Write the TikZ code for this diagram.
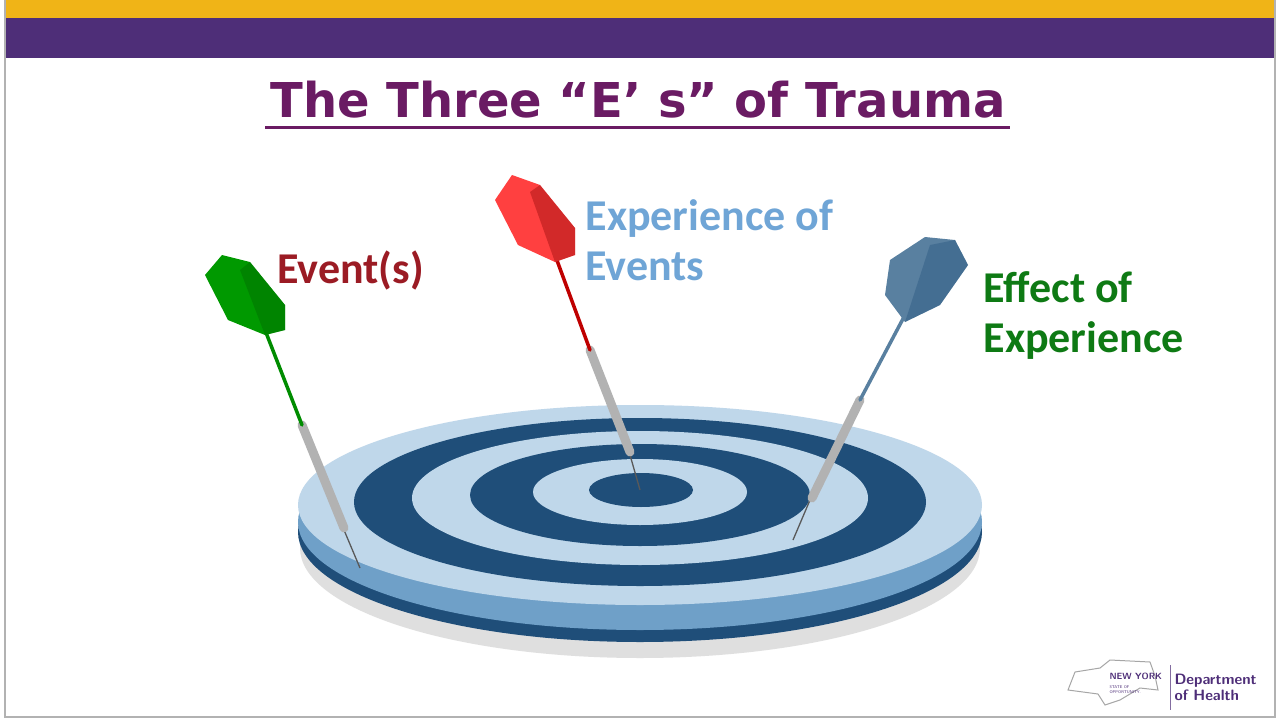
\documentclass[tikz,border=0pt]{standalone}
\usepackage{fontspec}
\setmainfont{Carlito}
\newfontfamily\titlefont{DejaVu Sans}
\begin{document}
\begin{tikzpicture}[x=1pt,y=-1pt,
  lbl/.style={font=\bfseries\fontsize{44}{50}\selectfont,anchor=west,align=left},
  shaftline/.style={line width=3.5pt,line cap=round},
  barrel/.style={line width=9pt,line cap=round,draw=gray!60},
  needle/.style={line width=1.3pt,draw=gray!70!black}]
\definecolor{gold}{HTML}{F0B417}
\definecolor{purp}{HTML}{4E2E78}
\definecolor{ttl}{HTML}{6A1B63}
\definecolor{dk}{HTML}{1F4E79}
\definecolor{lt}{HTML}{BFD7EA}
\definecolor{ltb}{HTML}{6FA0C8}
\definecolor{dg}{HTML}{0E7A14}
\definecolor{dr}{HTML}{9B1B24}
\definecolor{lb}{HTML}{6FA5D6}
\useasboundingbox (0,0) rectangle (1280,720);
\fill[white] (0,0) rectangle (1280,720);
\fill[gold] (5,0) rectangle (1275,18);
\fill[purp] (5,18) rectangle (1275,58);
\draw[gray!60,line width=1.5pt] (5,0) -- (5,717) -- (1275,717) -- (1275,0);
\node[font=\titlefont\bfseries\fontsize{48}{52}\selectfont,text=ttl] (title) at (638,100) {The Three “E’ s” of Trauma};
\draw[ttl,line width=3pt] (265,127) -- (1010,127);
% shadow and rim
\fill[gray!25] (640,548) ellipse [x radius=340,y radius=110];
\fill[dk] (640,532) ellipse [x radius=342,y radius=110];
\fill[ltb] (640,522) ellipse [x radius=342,y radius=108];
% rings
\fill[lt] (640,505) ellipse [x radius=342,y radius=100];
\fill[dk] (640,502) ellipse [x radius=286,y radius=84];
\fill[lt] (640,498) ellipse [x radius=228,y radius=67];
\fill[dk] (640,495) ellipse [x radius=170,y radius=51];
\fill[lt] (640,492) ellipse [x radius=107,y radius=33];
\fill[dk] (641,490) ellipse [x radius=52,y radius=17];
% green dart
\coordinate (gt) at (360,568);
\draw[needle] (gt) -- (344,530);
\draw[barrel] (344,528) -- (302,425);
\draw[shaftline,green!55!black] (302,425) -- (265,330);
\fill[green!60!black] (265,335) -- (228,320) -- (205,275) -- (222,255) -- (250,262) -- (285,305) -- (285,330) -- cycle;
\fill[green!40!black,opacity=.4] (265,335) -- (240,270) -- (250,262) -- (285,305) -- (285,330) -- cycle;
% red dart
\coordinate (rt) at (640,490);
\draw[needle] (rt) -- (630,455);
\draw[barrel] (630,452) -- (590,350);
\draw[shaftline,red!75!black] (590,350) -- (555,255);
\fill[red!75] (555,262) -- (518,245) -- (495,200) -- (512,175) -- (540,185) -- (575,228) -- (575,255) -- cycle;
\fill[red!50!black,opacity=.35] (555,262) -- (530,192) -- (540,185) -- (575,228) -- (575,255) -- cycle;
% blue dart
\coordinate (bt) at (793,540);
\draw[needle] (bt) -- (810,500);
\draw[barrel] (812,498) -- (860,400);
\draw[shaftline,ltb!80!black] (860,400) -- (905,315);
\fill[ltb!80!black] (905,322) -- (885,295) -- (890,260) -- (925,237) -- (955,240) -- (968,265) -- (940,305) -- cycle;
\fill[dk,opacity=.35] (905,322) -- (930,245) -- (955,240) -- (968,265) -- (940,305) -- cycle;
% labels
\node[lbl,text=dr] (l1) at (274,270) {Event(s)};
\node[lbl,text=lb] (l2) at (582,240) {Experience of\\Events};
\node[lbl,text=dg] (l3) at (980,315) {Effect of\\Experience};
% logo
\draw[gray!70,line width=1pt] (1068,690) -- (1075,672) -- (1100,668) -- (1110,660) -- (1150,662) -- (1155,676) -- (1158,690) -- (1140,688) -- (1120,700) -- (1105,705) -- (1098,694) -- cycle;
\node[font=\sffamily\bfseries\fontsize{9}{9}\selectfont,text=purp,anchor=west] (ny) at (1106,676) {NEW YORK};
\node[font=\sffamily\fontsize{4}{5}\selectfont,text=purp,anchor=west,align=left] (so) at (1106,690) {STATE OF\\OPPORTUNITY.};
\draw[purp!70,line width=1pt] (1170,665) -- (1170,710);
\node[font=\sffamily\bfseries\fontsize{15}{16}\selectfont,text=purp,anchor=west,align=left] (doh) at (1171,687) {Department\\of Health};
\end{tikzpicture}
\end{document}
